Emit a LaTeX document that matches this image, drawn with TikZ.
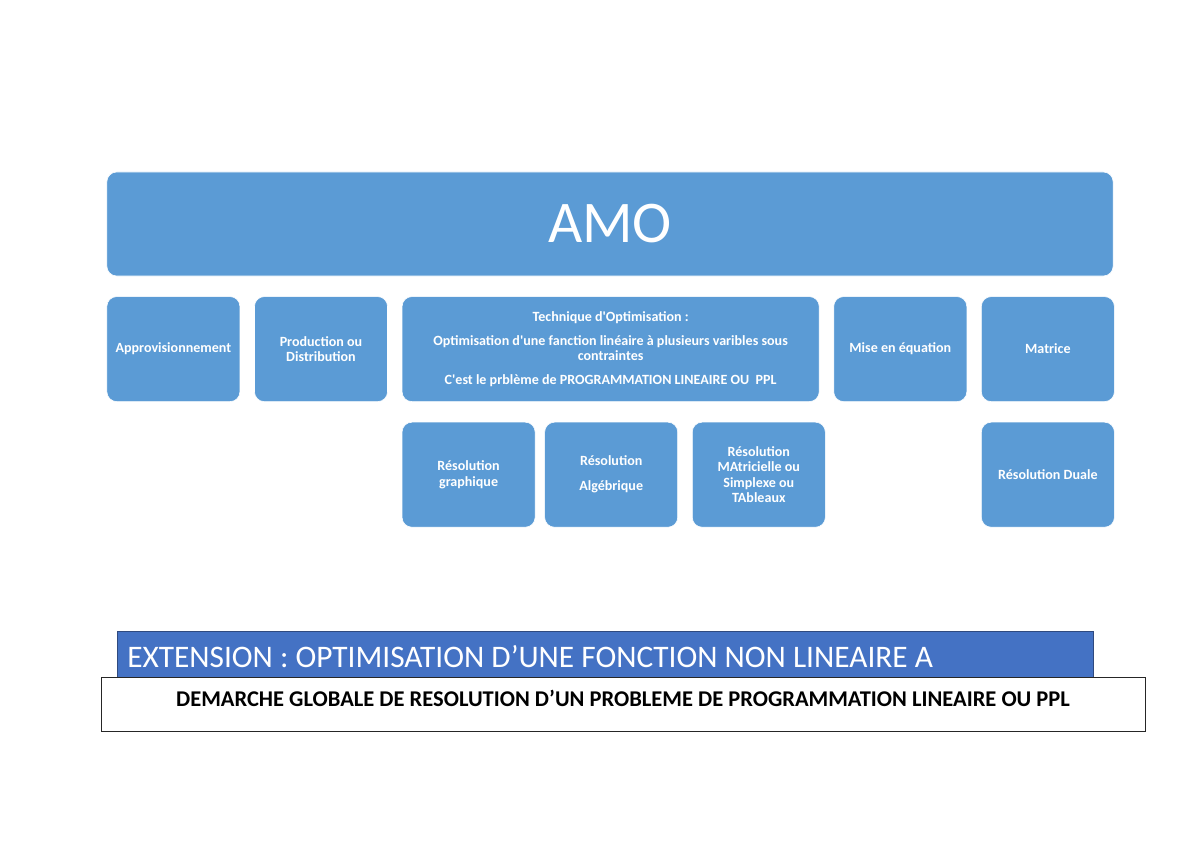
\documentclass[tikz,border=0pt]{standalone}
\usepackage{fontspec}
\setmainfont{Carlito}[Ligatures=TeXOff]
\usepackage{xcolor}
\usetikzlibrary{positioning}
\definecolor{smartblue}{HTML}{5B9BD5}
\definecolor{extblue}{HTML}{4472C4}
\definecolor{extedge}{HTML}{2F4A7F}

\begin{document}
\begin{tikzpicture}[
    x=0.025cm, y=-0.025cm,
    node distance=0.5cm and 0.35cm,
    topbox/.style={rectangle, draw=white, fill=smartblue, rounded corners=7pt, minimum width=25.15cm, minimum height=2.6cm, text=white, font=\fontsize{42}{46}\selectfont, inner sep=0pt},
    item/.style={rectangle, draw=white, fill=smartblue, rounded corners=7pt, minimum width=3.325cm, minimum height=2.625cm, text=white, align=center, font=\fontsize{10}{10.8}\selectfont\bfseries, inner sep=0pt},
    wideitem/.style={item, minimum width=10.425cm},
    extbar/.style={rectangle, draw=extedge, fill=extblue, minimum width=24.4cm, minimum height=1.15cm, inner sep=0pt},
    titlebox/.style={rectangle, draw=black!85, fill=white, minimum width=26.1cm, minimum height=1.35cm, inner sep=0pt}
]
    \useasboundingbox (0,0) rectangle (1200,849);

    % Top block
    \node [topbox] (amo) at (610,224) {AMO};

    % Second row
    \node [item, below right=0.5cm and 0cm of amo.south west] (appro) {Approvisionnement};
    \node [item, right=of appro] (prod) {Production ou\\Distribution};
    \node [wideitem, right=of prod] (tech) {Technique d'Optimisation :\\[6pt]
        Optimisation d'une fanction linéaire à plusieurs varibles sous\\contraintes\\[6pt]
        C'est le prblème de PROGRAMMATION LINEAIRE OU~~PPL};
    \node [item, right=of tech] (mise) {Mise en équation};
    \node [item, right=of mise] (matrice) {Matrice};

    % Third row
    \node [item, below right=0.5cm and 0cm of tech.south west] (graph) {Résolution\\graphique};
    \node [item, right=0.225cm of graph] (algeb) {Résolution\\[7pt]Algébrique};
    \node [item, right=of algeb] (simplexe) {Résolution\\MAtricielle ou\\Simplexe ou\\TAbleaux};
    \node [item, below=of matrice] (duale) {Résolution Duale};

    % Bottom banners
    \node [extbar, anchor=north west] (ext) at (117,631) {};
    \node [anchor=base west, text=white, font=\fontsize{22.3}{25}\selectfont, inner sep=0pt] (extlabel) at (127,667) {EXTENSION : OPTIMISATION D’UNE FONCTION NON LINEAIRE A};
    \node [titlebox, anchor=north west] (demarche) at (101,677) {};
    \node [font=\fontsize{16}{18}\selectfont\bfseries, inner sep=0pt] (demlabel) at (623,698) {DEMARCHE GLOBALE DE RESOLUTION D’UN PROBLEME DE PROGRAMMATION LINEAIRE OU PPL};

\end{tikzpicture}
\end{document}
